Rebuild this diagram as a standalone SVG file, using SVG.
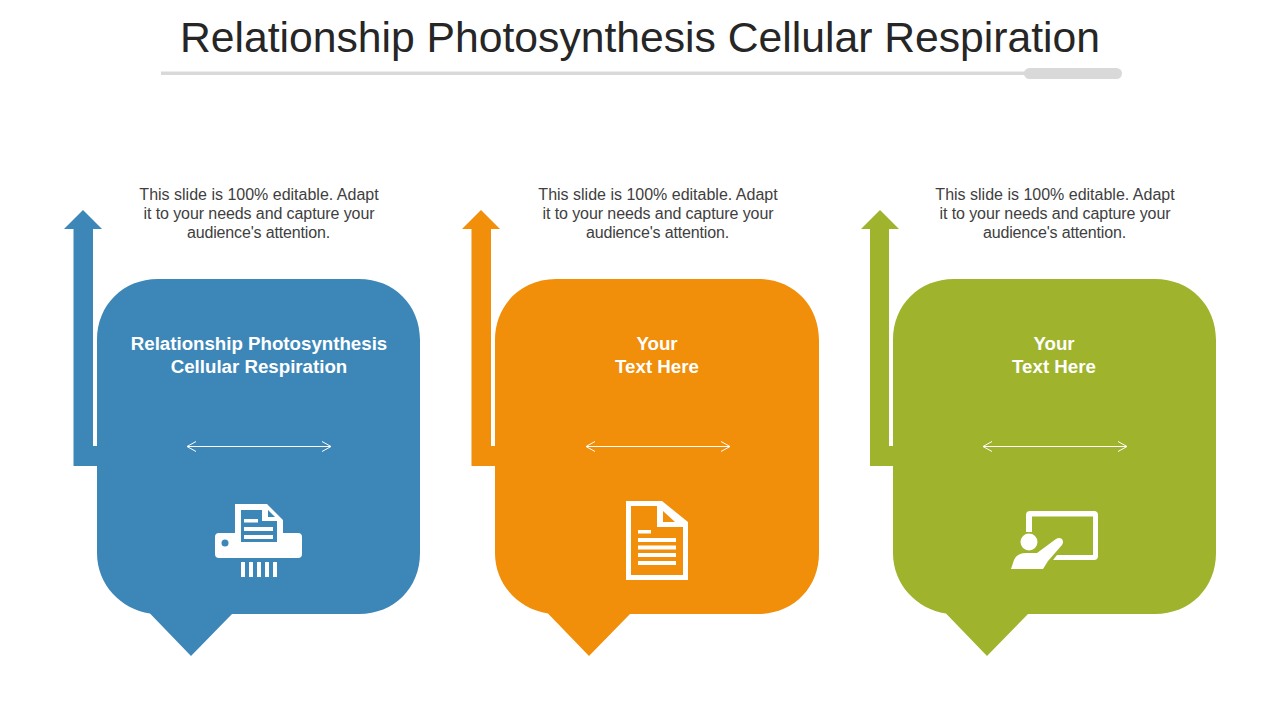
<svg xmlns="http://www.w3.org/2000/svg" width="1280" height="720" viewBox="0 0 1280 720">
<style>
text{font-family:"Liberation Sans",Arial,sans-serif}
.t{font-size:43px;fill:#262626;text-anchor:middle}
.b{font-size:16px;fill:#404040;text-anchor:middle}
.l2{letter-spacing:-0.090px}
.l3{letter-spacing:-0.150px}
.h{font-size:18.700px;font-weight:bold;fill:#fff;text-anchor:middle}
.da{fill:none;stroke:#fff;stroke-width:1}
.w{fill:#fff}
</style>
<rect width="1280" height="720" fill="#fff"/>
<g id="title">
<text class="t" x="640" y="51.500" textLength="920" lengthAdjust="spacingAndGlyphs">Relationship Photosynthesis Cellular Respiration</text>
<rect x="161" y="71.500" width="870" height="3.500" fill="#d9d9d9"/>
<rect x="1024" y="68" width="98" height="11" rx="5.500" fill="#d9d9d9"/>
</g>
<g id="node1">
<path fill="#3d87b8" d="M83 210L102 229H93V446H97V340C97 305 123 279 158 279H359C394 279 420 305 420 340V553C420 588 394 614 359 614H232L191 656L150 613.500C121 609 97 585 97 553V466H73.500V229H64Z"/>
<text class="b"><tspan x="259" y="200">This slide is 100% editable. Adapt</tspan><tspan class="l2" x="259" y="219">it to your needs and capture your</tspan><tspan class="l3" x="258.500" y="238">audience's attention.</tspan></text>
<text class="h"><tspan x="259" y="350">Relationship Photosynthesis</tspan><tspan x="259" y="373">Cellular Respiration</tspan></text>
<path class="w" d="M235 504H267L283 520V533H298Q302 533 302 537V554Q302 558 298 558H219Q215 558 215 554V537Q215 533 219 533H235Z"/>
<path fill="#3d87b8" d="M241 510H262V521H277V542H241Z"/>
<path fill="#3d87b8" d="M268 510L275 517H268Z"/>
<path class="w" d="M244 519H258V522.500H244ZM244 527H273V531H244ZM244 535H273V539H244Z"/>
<circle cx="225" cy="543" r="3.500" fill="#3d87b8"/>
<path class="w" d="M241 562H245V577H241ZM249 562H253V577H249ZM257 562H261V577H257ZM265 562H269V577H265ZM273 562H277V577H273Z"/>
</g>
<g id="node2">
<path fill="#f18e0a" d="M481 210L500 229H491V446H495V340C495 305 521 279 556 279H758C793 279 819 305 819 340V553C819 588 793 614 758 614H630L589 656L548 613.500C519 609 495 585 495 553V466H471.500V229H462Z"/>
<text class="b"><tspan x="658" y="200">This slide is 100% editable. Adapt</tspan><tspan class="l2" x="658" y="219">it to your needs and capture your</tspan><tspan class="l3" x="657.500" y="238">audience's attention.</tspan></text>
<text class="h"><tspan x="657" y="350">Your</tspan><tspan x="657" y="373">Text Here</tspan></text>
<path class="w" fill-rule="evenodd" d="M626 501H662L688 522V580H626ZM631 506V575H683V527H657V506ZM663 511V522H675Z"/>
<path class="w" d="M638 530H651V533.500H638ZM638 538H676V542H638ZM638 545.500H676V549.500H638ZM638 553H676V557H638ZM638 561H676V565H638Z"/>
</g>
<g id="node3">
<path fill="#9fb32c" d="M880 210L899 229H889V446H893V340C893 305 919 279 954 279H1155C1190 279 1216 305 1216 340V553C1216 588 1190 614 1155 614H1028L987 656L946 613.500C917 609 893 585 893 553V466H870V229H861Z"/>
<text class="b"><tspan x="1055" y="200">This slide is 100% editable. Adapt</tspan><tspan class="l2" x="1055" y="219">it to your needs and capture your</tspan><tspan class="l3" x="1054.500" y="238">audience's attention.</tspan></text>
<text class="h"><tspan x="1054" y="350">Your</tspan><tspan x="1054" y="373">Text Here</tspan></text>
<path class="w" d="M1030 511H1094Q1098 511 1098 515V556Q1098 560 1094 560H1053L1057 555H1093V516.500H1032V532H1026V515Q1026 511 1030 511Z"/>
<circle class="w" cx="1029" cy="542" r="8.500"/>
<path class="w" d="M1011 569L1014 560Q1017 553 1026 553H1037L1056 539Q1059 537 1062 539Q1064 542 1062 545L1048 561L1043 569Z"/>
</g>
<g id="connectors">
<path d="M187 446.500H331M196 441.500L187 446.500L196 451.500M322 441.500L331 446.500L322 451.500" class="da"/>
<path d="M586 446.500H730M595 441.500L586 446.500L595 451.500M721 441.500L730 446.500L721 451.500" class="da"/>
<path d="M983 446.500H1127M992 441.500L983 446.500L992 451.500M1118 441.500L1127 446.500L1118 451.500" class="da"/>
</g>
</svg>
